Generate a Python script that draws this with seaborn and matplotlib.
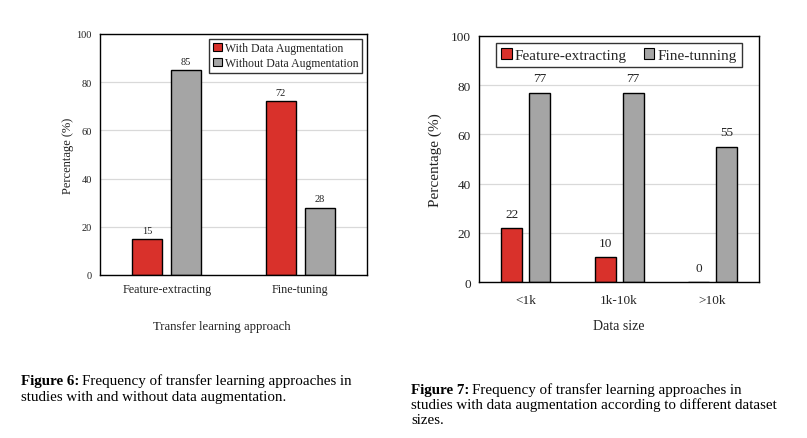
import matplotlib
matplotlib.use("Agg")
import matplotlib.pyplot as plt
import seaborn as sns
import pandas as pd

# ---- data ----
approaches = ["Feature-extracting", "Fine-tuning"]
with_aug = [15, 72]
without_aug = [85, 28]
series6 = ["With Data Augmentation", "Without Data Augmentation"]

sizes = ["<1k", "1k-10k", ">10k"]
feat_extr = [22, 10, 0]
fine_tun = [77, 77, 55]
series7 = ["Feature-extracting", "Fine-tunning"]

RED = "#D9312B"
GRAY = "#A5A5A5"

sns.set_theme(style="white")
plt.rcParams["font.family"] = ["Liberation Serif", "DejaVu Serif"]

df6 = pd.DataFrame({
    "cat": approaches * 2,
    "val": with_aug + without_aug,
    "series": [series6[0]] * len(approaches) + [series6[1]] * len(approaches),
})
df7 = pd.DataFrame({
    "cat": sizes * 2,
    "val": feat_extr + fine_tun,
    "series": [series7[0]] * len(sizes) + [series7[1]] * len(sizes),
})

W, H = 807, 439
fig = plt.figure(figsize=(W / 100, H / 100), dpi=100)
fig.patch.set_facecolor("white")

def px_axes(x0, y0, x1, y1):
    return fig.add_axes([x0 / W, (H - y1) / H, (x1 - x0) / W, (y1 - y0) / H])

def style_axes(ax, fs):
    ax.set_ylim(0, 100)
    ax.set_yticks([0, 20, 40, 60, 80, 100])
    ax.yaxis.grid(True, color="#D9D9D9", linewidth=0.9)
    ax.set_axisbelow(True)
    for s in ax.spines.values():
        s.set_visible(True)
        s.set_color("black")
        s.set_linewidth(1.0)
    ax.tick_params(axis="both", length=0, labelsize=fs, colors="#222222", pad=6)

# ---- Figure 6 ----
ax1 = px_axes(100, 35, 367, 276)
sns.barplot(data=df6, x="cat", y="val", hue="series", order=approaches,
            hue_order=series6, palette=[RED, GRAY], width=0.58, gap=0.22,
            edgecolor="black", linewidth=1.0, saturation=1, ax=ax1, errorbar=None)
style_axes(ax1, 7.5)
ax1.set_xlim(-0.5, 1.5)
ax1.set_xlabel("Transfer learning approach", fontsize=9.2, color="#222222")
ax1.xaxis.set_label_coords(0.457, -0.185)
ax1.set_ylabel("Percentage (%)", fontsize=9, labelpad=1.5, color="#222222")
ax1.tick_params(axis="x", labelsize=8.7)
for c in ax1.containers:
    ax1.bar_label(c, fmt="%d", padding=3, fontsize=7.5, color="#222222")
leg1 = ax1.legend(loc="upper right", fontsize=8.5, frameon=True, fancybox=False,
                  edgecolor="black", handlelength=0.75, handleheight=0.75,
                  handletextpad=0.3, borderpad=0.3, labelspacing=0.25,
                  borderaxespad=0.4)
leg1.get_frame().set_linewidth(1.0)
for h in leg1.legend_handles:
    h.set_edgecolor("black")
    h.set_linewidth(0.8)

# ---- Figure 7 ----
ax2 = px_axes(479, 37, 759, 283)
sns.barplot(data=df7, x="cat", y="val", hue="series", order=sizes,
            hue_order=series7, palette=[RED, GRAY], width=0.6, gap=0.25,
            edgecolor="black", linewidth=1.0, saturation=1, ax=ax2, errorbar=None)
style_axes(ax2, 9.5)
ax2.set_xlim(-0.5, 2.5)
ax2.tick_params(axis="x", pad=9)
ax2.set_xlabel("Data size", fontsize=10, labelpad=9, color="#222222")
ax2.set_ylabel("Percentage (%)", fontsize=11, labelpad=6, color="#222222")
for c in ax2.containers:
    ax2.bar_label(c, fmt="%d", padding=6, fontsize=9.5, color="#222222")
leg2 = ax2.legend(loc="upper center", ncol=2, fontsize=11, frameon=True,
                  fancybox=False, edgecolor="black", handlelength=0.7,
                  handleheight=0.7, handletextpad=0.2, columnspacing=1.1,
                  borderpad=0.35, borderaxespad=0.45, bbox_to_anchor=(0.5, 1.0))
leg2.get_frame().set_linewidth(1.0)
for h in leg2.legend_handles:
    h.set_edgecolor("black")
    h.set_linewidth(0.8)

# ---- captions ----
fig.canvas.draw()
renderer = fig.canvas.get_renderer()

def caption(x, y, bold, lines, fs=10.8, dy=16):
    t = fig.text(x / W, 1 - y / H, bold, fontsize=fs, fontweight="bold",
                 va="baseline", ha="left", color="black")
    bb = t.get_window_extent(renderer)
    fig.text((x + bb.width + 3) / W, 1 - y / H, lines[0], fontsize=fs,
             va="baseline", ha="left", color="black")
    for i, ln in enumerate(lines[1:], start=1):
        fig.text(x / W, 1 - (y + i * dy) / H, ln, fontsize=fs,
                 va="baseline", ha="left", color="black")

caption(21, 385, "Figure 6:", ["Frequency of transfer learning approaches in",
                               "studies with and without data augmentation."])
caption(411, 394, "Figure 7:", ["Frequency of transfer learning approaches in",
                                "studies with data augmentation according to different dataset",
                                "sizes."], dy=14.8)

fig.savefig("out.png", dpi=100, facecolor="white")
